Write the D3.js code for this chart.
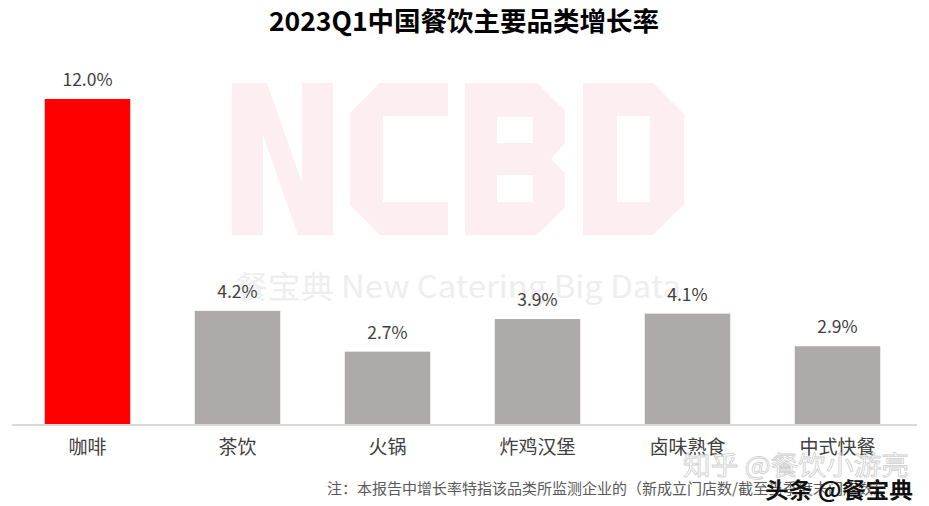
<!DOCTYPE html>
<html><head><meta charset="utf-8">
<script src="https://cdn.jsdelivr.net/npm/d3@7"></script>
<style>
html,body{margin:0;padding:0;background:#fff;}
svg{display:block;}
text{font-family:"Noto Sans CJK SC","Noto Sans",sans-serif;}
</style></head>
<body>
<svg id="chart" width="929" height="506"></svg>
<script>
const categories = ["咖啡","茶饮","火锅","炸鸡汉堡","卤味熟食","中式快餐"];
const growth = [12.0, 4.2, 2.7, 3.9, 4.1, 2.9];
const highlight = ["咖啡"];
const title = "2023Q1中国餐饮主要品类增长率";
const note = "注：本报告中增长率特指该品类所监测企业的（新成立门店数/截至当季度末门店数）";

const svg = d3.select("#chart");
const baseY = 425, topY = 99;

// background watermark: blocky NCBD letters
const letterPaths = {
  N: "M0,0H35L70,100V0H101V152H66L31,52V152H0Z",
  C: "M30,0H98V33H33V119H98V152H30L0,122V30Z",
  B: "M0,0H72L100,28V60L86,76L100,90V124L72,152H0Z M32,34H68V60H32Z M32,92H68V119H32Z",
  D: "M0,0H70L101,31V121L70,152H0Z M34,33H67V119H34Z"
};
const wm = svg.append("g").attr("transform","translate(232,83)");
[["N",0],["C",118],["B",233],["D",351]].forEach(([l,dx]) => {
  wm.append("path").attr("d", letterPaths[l]).attr("transform",`translate(${dx},0)`)
    .attr("fill","#fdeef2").attr("fill-rule","evenodd");
});
svg.append("text").attr("x", 235).attr("y", 298)
  .attr("textLength", 446).attr("lengthAdjust","spacingAndGlyphs")
  .style("font-size","31px").attr("fill","#eeeeee")
  .text("餐宝典  New Catering Big Data");

const x = d3.scaleBand().domain(categories).range([12.5, 912.5])
  .paddingInner(0.43).paddingOuter(0.215);
const y = d3.scaleLinear().domain([0, 12]).range([baseY, topY]);

svg.append("text").attr("x", 464).attr("y", 31).attr("text-anchor","middle")
  .style("font-size","26.5px").style("font-weight","700").attr("fill","#000")
  .text(title);

svg.selectAll("rect.bar").data(categories).enter().append("rect")
  .attr("class","bar")
  .attr("x", d => x(d)).attr("width", x.bandwidth())
  .attr("y", (d,i) => y(growth[i]))
  .attr("height", (d,i) => baseY - y(growth[i]))
  .attr("fill", d => highlight.includes(d) ? "#ff0000" : "#aeaaaa");

svg.selectAll("text.val").data(categories).enter().append("text")
  .attr("class","val")
  .attr("x", d => x(d) + x.bandwidth()/2)
  .attr("y", (d,i) => y(growth[i]) - 13)
  .attr("text-anchor","middle").style("font-size","17.5px").attr("fill","#404040")
  .text((d,i) => growth[i].toFixed(1) + "%");

const xAxis = svg.append("g").attr("transform", `translate(0,${baseY})`)
  .call(d3.axisBottom(x).tickSize(0).tickPadding(16));
xAxis.select(".domain").attr("stroke","#d9d9d9").attr("stroke-width",2)
  .attr("d","M12,0H917");
xAxis.selectAll("text").style("font-size","19px").attr("fill","#404040")
  .style("font-family","'Noto Sans CJK SC',sans-serif");

svg.append("text").attr("x", 327).attr("y", 494)
  .style("font-size","15px").attr("fill","#595959").text(note);

// overlay watermarks
svg.append("text").attr("x", 683).attr("y", 475)
  .attr("textLength", 226).attr("lengthAdjust","spacingAndGlyphs")
  .style("font-size","26px").attr("fill","none").attr("stroke","#cfcfcf").attr("stroke-width",0.8)
  .text("知乎 @餐饮小游亮");
svg.append("text").attr("x", 765).attr("y", 498)
  .attr("textLength", 148).attr("lengthAdjust","spacingAndGlyphs")
  .style("font-size","22px").style("font-weight","700").attr("fill","#111")
  .attr("stroke","#fff").attr("stroke-width",0.4).attr("paint-order","stroke")
  .text("头条 @餐宝典");
</script>
</body></html>
